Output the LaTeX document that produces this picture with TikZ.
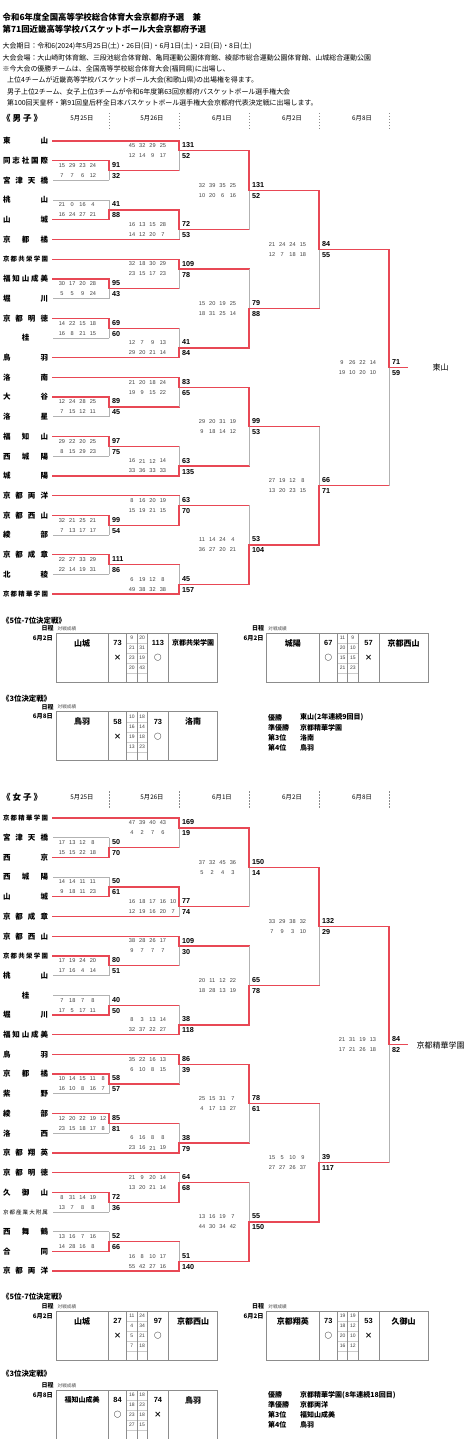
\documentclass[tikz,border=0pt]{standalone}
\usepackage{fontspec}
\setmainfont{Noto Sans CJK JP}
\newfontfamily\numfont{Liberation Sans}
\usetikzlibrary{calc}

\definecolor{winred}{RGB}{232,72,85}
\definecolor{losegrey}{RGB}{178,178,178}

% spread the characters of a team name over the name column
\def\spread#1{\spreadA#1\relax}
\def\spreadA#1{#1\futurelet\next\spreadB}
\def\spreadB{\ifx\next\relax\expandafter\spreadC\else\hfill\expandafter\spreadA\fi}
\def\spreadC\relax{}

% one game: top in, bottom in, out, winner (1 top / 2 bottom), loser line style,
% top score, bottom score, top periods, bottom periods
\newcommand{\game}[9]{%
  \ifnum#4=1
    \draw[#5] (#2) -- (#2 -| #3);
    \draw[lost] (#2 -| #3) -- (#3);
    \draw[won] (#1) -| (#3);
  \else
    \draw[#5] (#1) -- (#1 -| #3);
    \draw[lost] (#1 -| #3) -- (#3);
    \draw[won] (#2) -| (#3);
  \fi
  \node[score] (#3-ts) at ($(#3)+(3,-5.5)$) {#6};
  \node[score] (#3-bs) at ($(#3)+(3,5.5)$) {#7};
  \foreach \pp [count=\kk] in {#8}
    \node[per] (#3-t\kk) at ($(#3)+({10.3*\kk-57.3},-5)$) {\pp};
  \foreach \pp [count=\kk] in {#9}
    \node[per] (#3-b\kk) at ($(#3)+({10.3*\kk-57.3},5)$) {\pp};
}

% one placing game box: corner, date, team, score, mark, periods, score, mark, team
\newcommand{\pbox}[9]{%
  \node[sched] (#1-h) at ($(#1)+(-8.5,-4.5)$) {日程};
  \node[sched2] (#1-k) at ($(#1)+(1.5,-4.5)$) {対戦成績};
  \node[pdate] (#1-d) at ($(#1)+(-3,5)$) {#2};
  \foreach \yy in {10,20,30,40}
    \draw[cellline] ($(#1)+(70.7,\yy)$) -- ($(#1)+(91.3,\yy)$);
  \draw[boxline] (#1) rectangle ($(#1)+(161.5,49)$);
  \foreach \xx in {52.5,70.7,81,91.3,112.5}
    \draw[boxline] ($(#1)+(\xx,0)$) -- ($(#1)+(\xx,49)$);
  \node[bname] (#1-a) at ($(#1)+(26.2,10)$) {#3};
  \node[bscore] (#1-as) at ($(#1)+(61.6,10)$) {#4};
  \node[bmark] (#1-am) at ($(#1)+(61.6,25)$) {#5};
  \foreach \pa/\pb [count=\kk] in {#6} {
    \node[bper] (#1-a\kk) at ($(#1)+({75.85},{10*\kk-5})$) {\pa};
    \node[bper] (#1-b\kk) at ($(#1)+({86.15},{10*\kk-5})$) {\pb};
  }
  \node[bscore] (#1-bs) at ($(#1)+(101.9,10)$) {#7};
  \node[bmark] (#1-bm) at ($(#1)+(101.9,25)$) {#8};
  \node[bname] (#1-b) at ($(#1)+(137,10)$) {#9};
}

\begin{document}
\begin{tikzpicture}[x=1pt, y=-1pt,
  won/.style={draw=winred, line width=1.3pt, line cap=rect},
  lost/.style={draw=losegrey, line width=0.8pt},
  team/.style={text width=45pt, align=center, inner sep=0pt, outer xsep=5pt,
    font=\bfseries\fontsize{7.5}{8}\selectfont},
  tsm/.style={team, font=\bfseries\fontsize{6.4}{7}\selectfont},
  txs/.style={team, font=\fontsize{5.5}{6}\selectfont},
  score/.style={anchor=west, inner sep=0pt, font=\numfont\bfseries\fontsize{7.2}{8}\selectfont},
  per/.style={inner sep=0pt, text=black!75, font=\numfont\fontsize{5.6}{6}\selectfont},
  title/.style={anchor=west, inner sep=0pt, font=\bfseries\fontsize{8.4}{9}\selectfont},
  info/.style={anchor=west, inner sep=0pt, font=\fontsize{6.95}{7}\selectfont},
  part/.style={anchor=west, inner sep=0pt, font=\bfseries\fontsize{8.5}{9}\selectfont},
  day/.style={inner sep=0pt, font=\fontsize{6.3}{7}\selectfont},
  daysep/.style={draw=black!45, line width=0.5pt, dash pattern=on 1.5pt off 1.5pt},
  champ/.style={inner sep=0pt, font=\fontsize{8}{9}\selectfont},
  sect/.style={anchor=west, inner sep=0pt, font=\bfseries\fontsize{7.4}{8}\selectfont},
  sched/.style={inner sep=0pt, font=\bfseries\fontsize{6}{7}\selectfont},
  sched2/.style={anchor=west, inner sep=0pt, text=black!70, font=\fontsize{4.6}{5}\selectfont},
  pdate/.style={anchor=east, inner sep=0pt, font=\bfseries\fontsize{6.2}{7}\selectfont},
  boxline/.style={draw=black!45, line width=0.6pt},
  cellline/.style={draw=black!20, line width=0.4pt},
  bname/.style={inner sep=0pt, font=\bfseries\fontsize{8}{9}\selectfont},
  bscore/.style={inner sep=0pt, font=\numfont\bfseries\fontsize{7.4}{8}\selectfont},
  bmark/.style={inner sep=0pt, font=\bfseries\fontsize{7.5}{8}\selectfont},
  bper/.style={inner sep=0pt, text=black!75, font=\numfont\fontsize{5}{6}\selectfont},
  res/.style={anchor=west, inner sep=0pt, font=\bfseries\fontsize{7}{8}\selectfont}
]
\path[fill=white, use as bounding box] (0,0) rectangle (474,1439);

% header
\node[title] (t1) at (2.5,17.3) {令和6年度全国高等学校総合体育大会京都府予選　兼};
\node[title] (t2) at (2.5,29.3) {第71回近畿高等学校バスケットボール大会京都府予選};
\node[info] (i1) at (2.5,46.7) {大会期日：令和6(2024)年5月25日(土)・26日(日)・6月1日(土)・2日(日)・8日(土)};
\node[info] (i2) at (2.5,58.3) {大会会場：大山崎町体育館、三段池総合体育館、亀岡運動公園体育館、綾部市総合運動公園体育館、山城総合運動公園};
\node[info] (i3) at (2.5,69.3) {※今大会の優勝チームは、全国高等学校総合体育大会(福岡県)に出場し、};
\node[info] (i4) at (7,80.7) {上位4チームが近畿高等学校バスケットボール大会(和歌山県)の出場権を得ます。};
\node[info] (i5) at (7,91.7) {男子上位2チーム、女子上位3チームが令和6年度第63回京都府バスケットボール選手権大会};
\node[info] (i6) at (7,102.7) {第100回天皇杯・第91回皇后杯全日本バスケットボール選手権大会京都府代表決定戦に出場します。};

%%%%%%%%%%%%%%%% men
\node[part] (men) at (2,118) {《 男 子 》};
\foreach \d/\x in {5月25日/82, 5月26日/152, 6月1日/222, 6月2日/292, 6月8日/362}
  \node[day] (mday\x) at (\x,118) {\d};
\foreach \x in {109,179,249,319,389}
  \draw[daysep] (\x,113) -- (\x,130);

\node[team] (m0) at (25.5,141.0) {\spread{東山}};
\node[team] (m1) at (25.5,160.7) {\spread{同志社国際}};
\node[team] (m2) at (25.5,180.4) {\spread{宮津天橋}};
\node[team] (m3) at (25.5,200.1) {\spread{桃山}};
\node[team] (m4) at (25.5,219.8) {\spread{山城}};
\node[team] (m5) at (25.5,239.5) {\spread{京都橘}};
\node[tsm]  (m6) at (25.5,259.2) {\spread{京都共栄学園}};
\node[team] (m7) at (25.5,278.9) {\spread{福知山成美}};
\node[team] (m8) at (25.5,298.6) {\spread{堀川}};
\node[team] (m9) at (25.5,318.3) {\spread{京都明徳}};
\node[team] (m10) at (25.5,338.0) {桂};
\node[team] (m11) at (25.5,357.7) {\spread{鳥羽}};
\node[team] (m12) at (25.5,377.4) {\spread{洛南}};
\node[team] (m13) at (25.5,397.1) {\spread{大谷}};
\node[team] (m14) at (25.5,416.8) {\spread{洛星}};
\node[team] (m15) at (25.5,436.5) {\spread{福知山}};
\node[team] (m16) at (25.5,456.2) {\spread{西城陽}};
\node[team] (m17) at (25.5,475.9) {\spread{城陽}};
\node[team] (m18) at (25.5,495.6) {\spread{京都両洋}};
\node[team] (m19) at (25.5,515.3) {\spread{京都西山}};
\node[team] (m20) at (25.5,535.0) {\spread{綾部}};
\node[team] (m21) at (25.5,554.7) {\spread{京都成章}};
\node[team] (m22) at (25.5,574.4) {\spread{北稜}};
\node[tsm]  (m23) at (25.5,594.1) {\spread{京都精華学園}};

\coordinate (ma1) at (109,170.55);  \coordinate (mb1) at (179,150.85);
\coordinate (ma2) at (109,209.95);  \coordinate (mb2) at (179,229.65);
\coordinate (ma3) at (109,288.75);  \coordinate (mb3) at (179,269.05);
\coordinate (ma4) at (109,328.15);  \coordinate (mb4) at (179,347.85);
\coordinate (ma5) at (109,406.95);  \coordinate (mb5) at (179,387.25);
\coordinate (ma6) at (109,446.35);  \coordinate (mb6) at (179,466.05);
\coordinate (ma7) at (109,525.15);  \coordinate (mb7) at (179,505.45);
\coordinate (ma8) at (109,564.55);  \coordinate (mb8) at (179,584.25);
\coordinate (mc1) at (249,190.25);  \coordinate (mc2) at (249,308.45);
\coordinate (mc3) at (249,426.65);  \coordinate (mc4) at (249,544.85);
\coordinate (md1) at (319,249.35);  \coordinate (md2) at (319,485.75);
\coordinate (mf) at (389,367.55);   \coordinate (mw) at (407,367.55);

% 5/25
\game{m1}{m2}{ma1}{1}{lost}{91}{32}{15,29,23,24}{7,7,6,12}
\game{m3}{m4}{ma2}{2}{lost}{41}{88}{21,0,16,4}{16,24,27,21}
\game{m7}{m8}{ma3}{1}{lost}{95}{43}{30,17,20,28}{5,5,9,24}
\game{m9}{m10}{ma4}{1}{lost}{69}{60}{14,22,15,18}{16,8,21,15}
\game{m13}{m14}{ma5}{1}{lost}{89}{45}{12,24,28,25}{7,15,12,11}
\game{m15}{m16}{ma6}{1}{lost}{97}{75}{29,22,20,25}{8,15,29,23}
\game{m19}{m20}{ma7}{1}{lost}{99}{54}{32,21,25,21}{7,13,17,17}
\game{m21}{m22}{ma8}{1}{lost}{111}{86}{22,27,33,29}{22,14,19,31}
% 5/26
\game{m0}{ma1}{mb1}{1}{won}{131}{52}{45,32,29,25}{12,14,9,17}
\game{ma2}{m5}{mb2}{1}{won}{72}{53}{16,13,15,28}{14,12,20,7}
\game{m6}{ma3}{mb3}{1}{won}{109}{78}{32,18,30,29}{23,15,17,23}
\game{ma4}{m11}{mb4}{2}{won}{41}{84}{12,7,9,13}{29,20,21,14}
\game{m12}{ma5}{mb5}{1}{won}{83}{65}{21,20,18,24}{19,9,15,22}
\game{ma6}{m17}{mb6}{2}{won}{63}{135}{16,21,12,14}{33,36,33,33}
\game{m18}{ma7}{mb7}{2}{won}{63}{70}{8,16,20,19}{15,19,21,15}
\game{ma8}{m23}{mb8}{2}{won}{45}{157}{6,19,12,8}{49,38,32,38}
% 6/1
\game{mb1}{mb2}{mc1}{1}{won}{131}{52}{32,39,35,25}{10,20,6,16}
\game{mb3}{mb4}{mc2}{2}{won}{79}{88}{15,20,19,25}{18,31,25,14}
\game{mb5}{mb6}{mc3}{1}{won}{99}{53}{29,20,31,19}{9,18,14,12}
\game{mb7}{mb8}{mc4}{2}{won}{53}{104}{11,14,24,4}{36,27,20,21}
% 6/2
\game{mc1}{mc2}{md1}{1}{won}{84}{55}{21,24,24,15}{12,7,18,18}
\game{mc3}{mc4}{md2}{2}{won}{66}{71}{27,19,12,8}{13,20,23,15}
% 6/8
\game{md1}{md2}{mf}{1}{won}{71}{59}{9,26,22,14}{19,10,20,10}
\draw[won] (mf) -- (mw);
\node[champ] (mchamp) at (440.5,367.5) {東山};

% men placing games
\node[sect] (ms57) at (2,620.7) {《5位-7位決定戦》};
\coordinate (mp1) at (56,633);
\coordinate (mp2) at (266.7,633);
\pbox{mp1}{6月2日}{山城}{73}{×}{9/20,21/31,23/19,20/43}{113}{○}{\fontsize{7}{8}\selectfont 京都共栄学園}
\pbox{mp2}{6月2日}{城陽}{67}{○}{11/9,20/10,15/15,21/23}{57}{×}{京都西山}
\node[sect] (ms3) at (2,699) {《3位決定戦》};
\coordinate (mp3) at (56,711.7);
\pbox{mp3}{6月8日}{鳥羽}{58}{×}{10/18,16/14,19/18,13/23}{73}{○}{洛南}
\foreach \a/\b [count=\kk] in {優勝/東山(2年連続9回目), 準優勝/京都精華学園, 第3位/洛南, 第4位/鳥羽} {
  \node[res] (mr\kk) at (268,{707.5+10*\kk}) {\a};
  \node[res] (mr\kk n) at (300,{707.5+10*\kk}) {\b};
}

%%%%%%%%%%%%%%%% women
\node[part] (women) at (2,797) {《 女 子 》};
\foreach \d/\x in {5月25日/82, 5月26日/152, 6月1日/222, 6月2日/292, 6月8日/362}
  \node[day] (wday\x) at (\x,797) {\d};
\foreach \x in {109,179,249,319,389}
  \draw[daysep] (\x,791) -- (\x,808);

\node[tsm]  (w0) at (25.5,818.0) {\spread{京都精華学園}};
\node[team] (w1) at (25.5,837.7) {\spread{宮津天橋}};
\node[team] (w2) at (25.5,857.4) {\spread{西京}};
\node[team] (w3) at (25.5,877.1) {\spread{西城陽}};
\node[team] (w4) at (25.5,896.8) {\spread{山城}};
\node[team] (w5) at (25.5,916.5) {\spread{京都成章}};
\node[team] (w6) at (25.5,936.2) {\spread{京都西山}};
\node[tsm]  (w7) at (25.5,955.9) {\spread{京都共栄学園}};
\node[team] (w8) at (25.5,975.6) {\spread{桃山}};
\node[team] (w9) at (25.5,995.3) {桂};
\node[team] (w10) at (25.5,1015.0) {\spread{堀川}};
\node[team] (w11) at (25.5,1034.7) {\spread{福知山成美}};
\node[team] (w12) at (25.5,1054.4) {\spread{鳥羽}};
\node[team] (w13) at (25.5,1074.1) {\spread{京都橘}};
\node[team] (w14) at (25.5,1093.8) {\spread{紫野}};
\node[team] (w15) at (25.5,1113.5) {\spread{綾部}};
\node[team] (w16) at (25.5,1133.2) {\spread{洛西}};
\node[team] (w17) at (25.5,1152.9) {\spread{京都翔英}};
\node[team] (w18) at (25.5,1172.6) {\spread{京都明徳}};
\node[team] (w19) at (25.5,1192.3) {\spread{久御山}};
\node[txs]  (w20) at (25.5,1212.0) {\spread{京都産業大附属}};
\node[team] (w21) at (25.5,1231.7) {\spread{西舞鶴}};
\node[team] (w22) at (25.5,1251.4) {\spread{合同}};
\node[team] (w23) at (25.5,1271.1) {\spread{京都両洋}};

\coordinate (wa1) at (109,847.55);  \coordinate (wb1) at (179,827.85);
\coordinate (wa2) at (109,886.95);  \coordinate (wb2) at (179,906.65);
\coordinate (wa3) at (109,965.75);  \coordinate (wb3) at (179,946.05);
\coordinate (wa4) at (109,1005.15); \coordinate (wb4) at (179,1024.85);
\coordinate (wa5) at (109,1083.95); \coordinate (wb5) at (179,1064.25);
\coordinate (wa6) at (109,1123.35); \coordinate (wb6) at (179,1143.05);
\coordinate (wa7) at (109,1202.15); \coordinate (wb7) at (179,1182.45);
\coordinate (wa8) at (109,1241.55); \coordinate (wb8) at (179,1261.25);
\coordinate (wc1) at (249,867.25);  \coordinate (wc2) at (249,985.45);
\coordinate (wc3) at (249,1103.65); \coordinate (wc4) at (249,1221.85);
\coordinate (wd1) at (319,926.35);  \coordinate (wd2) at (319,1162.75);
\coordinate (wf) at (389,1044.55);  \coordinate (ww) at (407,1044.55);

% 5/25
\game{w1}{w2}{wa1}{2}{lost}{50}{70}{17,13,12,8}{15,15,22,18}
\game{w3}{w4}{wa2}{2}{lost}{50}{61}{14,14,11,11}{9,18,11,23}
\game{w7}{w8}{wa3}{1}{lost}{80}{51}{17,19,24,20}{17,16,4,14}
\game{w9}{w10}{wa4}{2}{lost}{40}{50}{7,18,7,8}{17,5,17,11}
\game{w13}{w14}{wa5}{1}{lost}{58}{57}{10,14,15,11,8}{16,10,8,16,7}
\game{w15}{w16}{wa6}{1}{lost}{85}{81}{12,20,22,19,12}{23,15,18,17,8}
\game{w19}{w20}{wa7}{1}{lost}{72}{36}{8,31,14,19}{13,7,8,8}
\game{w21}{w22}{wa8}{2}{lost}{52}{66}{13,16,7,16}{14,28,16,8}
% 5/26
\game{w0}{wa1}{wb1}{1}{won}{169}{19}{47,39,40,43}{4,2,7,6}
\game{wa2}{w5}{wb2}{1}{won}{77}{74}{16,18,17,16,10}{12,19,16,20,7}
\game{w6}{wa3}{wb3}{1}{won}{109}{30}{38,28,26,17}{9,7,7,7}
\game{wa4}{w11}{wb4}{2}{won}{38}{118}{8,3,13,14}{32,37,22,27}
\game{w12}{wa5}{wb5}{1}{won}{86}{39}{35,22,16,13}{6,10,8,15}
\game{wa6}{w17}{wb6}{2}{won}{38}{79}{6,16,8,8}{23,16,21,19}
\game{w18}{wa7}{wb7}{2}{won}{64}{68}{21,9,20,14}{13,20,21,14}
\game{wa8}{w23}{wb8}{2}{won}{51}{140}{16,8,10,17}{55,42,27,16}
% 6/1
\game{wb1}{wb2}{wc1}{1}{won}{150}{14}{37,32,45,36}{5,2,4,3}
\game{wb3}{wb4}{wc2}{2}{won}{65}{78}{20,11,12,22}{18,28,13,19}
\game{wb5}{wb6}{wc3}{1}{won}{78}{61}{25,15,31,7}{4,17,13,27}
\game{wb7}{wb8}{wc4}{2}{won}{55}{150}{13,16,19,7}{44,30,34,42}
% 6/2
\game{wc1}{wc2}{wd1}{1}{won}{132}{29}{33,29,38,32}{7,9,3,10}
\game{wc3}{wc4}{wd2}{2}{won}{39}{117}{15,5,10,9}{27,27,26,37}
% 6/8
\game{wd1}{wd2}{wf}{1}{won}{84}{82}{21,31,19,13}{17,21,26,18}
\draw[won] (wf) -- (ww);
\node[champ] (wchamp) at (440.5,1045) {京都精華学園};

% women placing games
\node[sect] (ws57) at (2,1296.7) {《5位-7位決定戦》};
\coordinate (wp1) at (56,1311);
\coordinate (wp2) at (266.7,1311);
\pbox{wp1}{6月2日}{山城}{27}{×}{11/24,4/34,5/21,7/18}{97}{○}{京都西山}
\pbox{wp2}{6月2日}{京都翔英}{73}{○}{19/19,18/12,20/10,16/12}{53}{×}{久御山}
\node[sect] (ws3) at (2,1374) {《3位決定戦》};
\coordinate (wp3) at (56,1390);
\pbox{wp3}{6月8日}{\fontsize{7}{8}\selectfont 福知山成美}{84}{○}{16/18,18/23,23/18,27/15}{74}{×}{鳥羽}
\foreach \a/\b [count=\kk] in {優勝/京都精華学園(8年連続18回目), 準優勝/京都両洋, 第3位/福知山成美, 第4位/鳥羽} {
  \node[res] (wr\kk) at (268,{1385+10*\kk}) {\a};
  \node[res] (wr\kk n) at (300,{1385+10*\kk}) {\b};
}
\end{tikzpicture}
\end{document}
